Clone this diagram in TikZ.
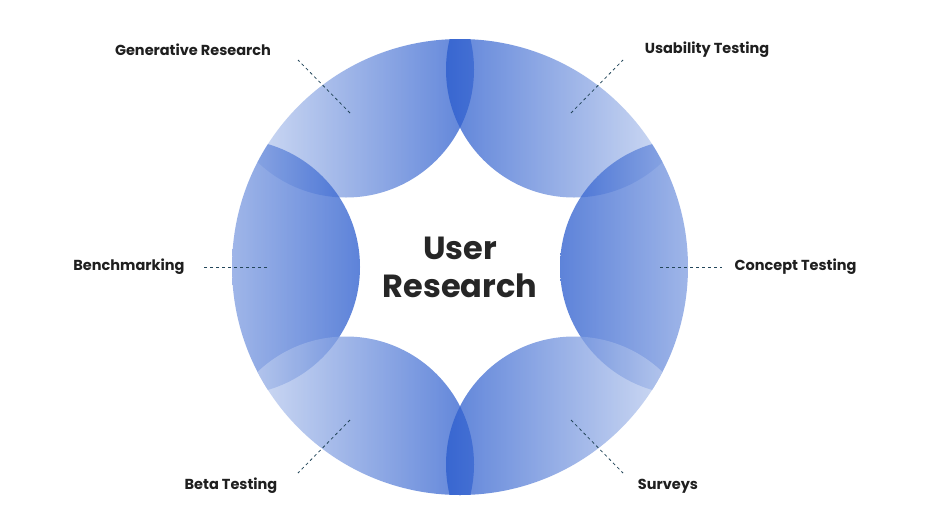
\documentclass[tikz,border=0pt]{standalone}
\usepackage{fontspec}
\setmainfont{Poppins}
\definecolor{petaldark}{RGB}{40,90,205}
\definecolor{petallight}{RGB}{215,225,245}
\definecolor{dashcol}{RGB}{35,70,90}
\tikzset{
  petal/.style={opacity=0.75},
  lab/.style={font=\fontsize{14.5}{17}\selectfont\bfseries, text=black!88},
  guide/.style={dashcol, thick, dash pattern=on 3pt off 3pt}
}
\begin{document}
\begin{tikzpicture}[x=1pt,y=-1pt]
        \useasboundingbox (0,0) rectangle (926,520);
        \fill[white] (0,0) rectangle (926,520);
        \begin{scope}
        \clip (460,267) circle (228);
        % petals: centre x / centre y / left colour / right colour
        \foreach \cx/\cy/\lc/\rc in {346/69.5/petallight/petaldark, 574/69.5/petaldark/petallight,
                                     232/267/petallight/petaldark, 688/267/petaldark/petallight,
                                     346/464.5/petallight/petaldark, 574/464.5/petaldark/petallight}
        {
          \shade[petal, left color=\lc, right color=\rc] (\cx,\cy) circle (128);
        }
        \end{scope}

        \node[font=\fontsize{32}{38}\selectfont\bfseries, text=black!85, align=center] (core) at (460,267) {User\\Research};

        \node[lab] (gen) at (193,50) {Generative Research};
        \node[lab] (usa) at (707,50) {Usability Testing};
        \node[lab, anchor=east] (ben) at (188,267) {Benchmarking};
        \node[lab, anchor=west] (con) at (731,267) {Concept Testing};
        \node[lab] (bet) at (231,486) {Beta Testing};
        \node[lab] (sur) at (668,486) {Surveys};

        \coordinate (g1) at (350,113); \coordinate (g2) at (298,60);
        \coordinate (u1) at (571,113); \coordinate (u2) at (623,60);
        \coordinate (b1) at (267,267); \coordinate (b2) at (203,267);
        \coordinate (c1) at (660,267); \coordinate (c2) at (722,267);
        \coordinate (t1) at (350,420); \coordinate (t2) at (298,473);
        \coordinate (s1) at (571,420); \coordinate (s2) at (623,473);

        \draw[guide] (g1) -- (g2);
        \draw[guide] (u1) -- (u2);
        \draw[guide] (b1) -- (b2);
        \draw[guide] (c1) -- (c2);
        \draw[guide] (t1) -- (t2);
        \draw[guide] (s1) -- (s2);
        \end{tikzpicture}
\end{document}
